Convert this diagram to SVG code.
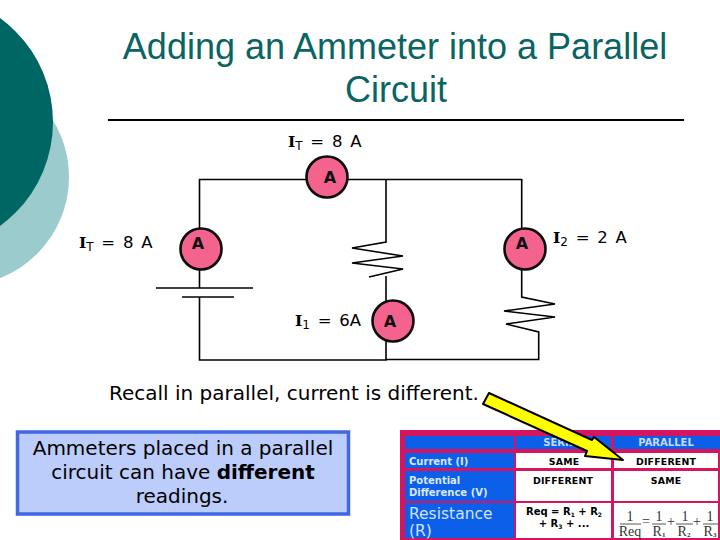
<svg xmlns="http://www.w3.org/2000/svg" width="720" height="540" viewBox="0 0 720 540">
<style>
text{font-family:"DejaVu Sans",Verdana,sans-serif;fill:#000}
.title{font-family:"Liberation Sans",Arial,sans-serif;font-size:36px;fill:#0a6462;text-anchor:middle}
.lab{font-size:16.5px;word-spacing:2.5px}
.sub{font-size:12px;font-weight:400}
.i{font-family:"DejaVu Serif",serif;font-weight:700;font-size:15.5px}
.w{fill:none;stroke:#000;stroke-width:1.6}
.m{fill:#f4628e;stroke:#0d0d0d;stroke-width:2.6}
.ma{font-size:16px;font-weight:700;text-anchor:middle;fill:#111}
.box{font-size:20px;text-anchor:middle}
.tc{font-size:9.4px;font-weight:700;text-anchor:middle;letter-spacing:.2px}
.eq{font-size:10px;font-weight:700;text-anchor:middle}
.th{font-size:10px;font-weight:700;fill:#dbe8ff}
.hd{font-size:10px;font-weight:700;text-anchor:middle;fill:#c6dcff}
.rs{font-size:15.500px;fill:#d3e3ff}
.f{font-family:"Liberation Serif",serif;font-size:14px;text-anchor:middle;fill:#333}
.s{font-size:7px;font-weight:700}
.fl{stroke:#555;stroke-width:1}
.blue{fill:#0c5fe8}
</style>
<g id="background">
<circle cx="-39.4" cy="177" r="108.4" fill="#9ccbcd"/>
<circle cx="-75.5" cy="122" r="128.5" fill="#006664"/>
</g>
<g id="title">
<text class="title" x="395" y="59">Adding an Ammeter into a Parallel</text>
<text class="title" x="396" y="102">Circuit</text>
<line x1="108" y1="120" x2="684" y2="120" stroke="#000" stroke-width="2"/>
</g>
<g id="connectors">
<path class="w" d="M199.500 288V179.500H521.700V297L555 304 504 311 555 317 506 324 538.700 332V359.500H386"/>
<path class="w" d="M386 179.500V242L352 248 403 256 352 263 403 269 369 277M386 276V360H199.500V297"/>
<line class="w" x1="156" y1="288" x2="253" y2="288"/>
<line class="w" x1="182" y1="297" x2="234" y2="297"/>
</g>
<g id="ammeter-top">
<circle class="m" cx="327" cy="177" r="20.500"/>
<text class="ma" x="330" y="183">A</text>
</g>
<g id="ammeter-left">
<circle class="m" cx="201" cy="249" r="20.500"/>
<text class="ma" x="198" y="249">A</text>
</g>
<g id="ammeter-right">
<circle class="m" cx="525" cy="249" r="20.500"/>
<text class="ma" x="522" y="249">A</text>
</g>
<g id="ammeter-bottom">
<circle class="m" cx="393" cy="321" r="20.500"/>
<text class="ma" x="390" y="327">A</text>
</g>
<g id="labels">
<text class="lab" x="288" y="147"><tspan class="i">I</tspan><tspan class="sub" dy="3">T</tspan><tspan dy="-3"> = 8 A</tspan></text>
<text class="lab" x="79" y="248"><tspan class="i">I</tspan><tspan class="sub" dy="3">T</tspan><tspan dy="-3"> = 8 A</tspan></text>
<text class="lab" x="553" y="243"><tspan class="i">I</tspan><tspan class="sub" dy="3">2</tspan><tspan dy="-3"> = 2 A</tspan></text>
<text class="lab" x="295" y="326"><tspan class="i">I</tspan><tspan class="sub" dy="3">1</tspan><tspan dy="-3"> = 6A</tspan></text>
<text x="109" y="400" font-size="20px">Recall in parallel, current is different.</text>
</g>
<g id="callout">
<rect x="17.500" y="432" width="331" height="82" fill="#bccdfb" stroke="#3f68e2" stroke-width="3.500"/>
<text class="box" x="183" y="455">Ammeters placed in a parallel</text>
<text class="box" x="183" y="479">circuit can have <tspan font-weight="700">different</tspan></text>
<text class="box" x="182" y="503">readings.</text>
</g>
<g id="table">
<rect x="400" y="430" width="320" height="110" fill="#d6145f"/>
<rect class="blue" x="405" y="436" width="109" height="13"/>
<rect class="blue" x="516" y="436" width="95" height="13"/>
<rect class="blue" x="614" y="436" width="106" height="13"/>
<rect class="blue" x="405" y="453" width="109" height="15"/>
<rect class="blue" x="405" y="471" width="109" height="30"/>
<rect class="blue" x="405" y="503" width="109" height="35"/>
<g fill="#fff">
<rect x="516" y="453" width="95" height="15"/>
<rect x="614" y="453" width="104" height="15"/>
<rect x="516" y="471" width="95" height="30"/>
<rect x="614" y="471" width="104" height="30"/>
<rect x="516" y="503" width="95" height="35"/>
<rect x="614" y="503" width="104" height="35"/>
</g>
<text class="hd" x="563" y="446">SERIES</text>
<text class="hd" x="666" y="446">PARALLEL</text>
<text class="th" x="409" y="465">Current (I)</text>
<text class="th" x="409" y="484">Potential</text>
<text class="th" x="409" y="496">Difference (V)</text>
<text class="rs" x="409" y="519">Resistance</text>
<text class="rs" x="409" y="536">(R)</text>
<text class="tc" x="564" y="465">SAME</text>
<text class="tc" x="666" y="465">DIFFERENT</text>
<text class="tc" x="563" y="484">DIFFERENT</text>
<text class="tc" x="666" y="484">SAME</text>
<text class="eq" x="564" y="515">Req = R<tspan font-size="6px" dy="2">1</tspan><tspan dy="-2"> + R</tspan><tspan font-size="6px" dy="2">2</tspan></text>
<text class="eq" x="564" y="527">+ R<tspan font-size="6px" dy="2">3</tspan><tspan dy="-2"> + ...</tspan></text>
<text class="f" x="630" y="521">1</text>
<line class="fl" x1="620" y1="524" x2="641" y2="524"/>
<text class="f" x="630" y="536">Req</text>
<text class="f" x="646" y="526">=</text>
<text class="f" x="659" y="521">1</text>
<line class="fl" x1="652" y1="524" x2="666" y2="524"/>
<text class="f" x="659" y="536">R<tspan class="s" dy="1">1</tspan></text>
<text class="f" x="671" y="526" font-size="9px">+</text>
<text class="f" x="685" y="521">1</text>
<line class="fl" x1="676" y1="524" x2="693" y2="524"/>
<text class="f" x="684" y="536">R<tspan class="s" dy="1">2</tspan></text>
<text class="f" x="697" y="526" font-size="9px">+</text>
<text class="f" x="710" y="521">1</text>
<line class="fl" x1="703" y1="524" x2="718" y2="524"/>
<text class="f" x="710" y="536">R<tspan class="s" dy="1">3</tspan></text>
</g>
<g id="arrow">
<polygon points="489,393 592,440 594,437 623,460 585,456 587,451 483,404" fill="#ffff00" stroke="#000" stroke-width="2" stroke-linejoin="round"/>
</g>
</svg>
